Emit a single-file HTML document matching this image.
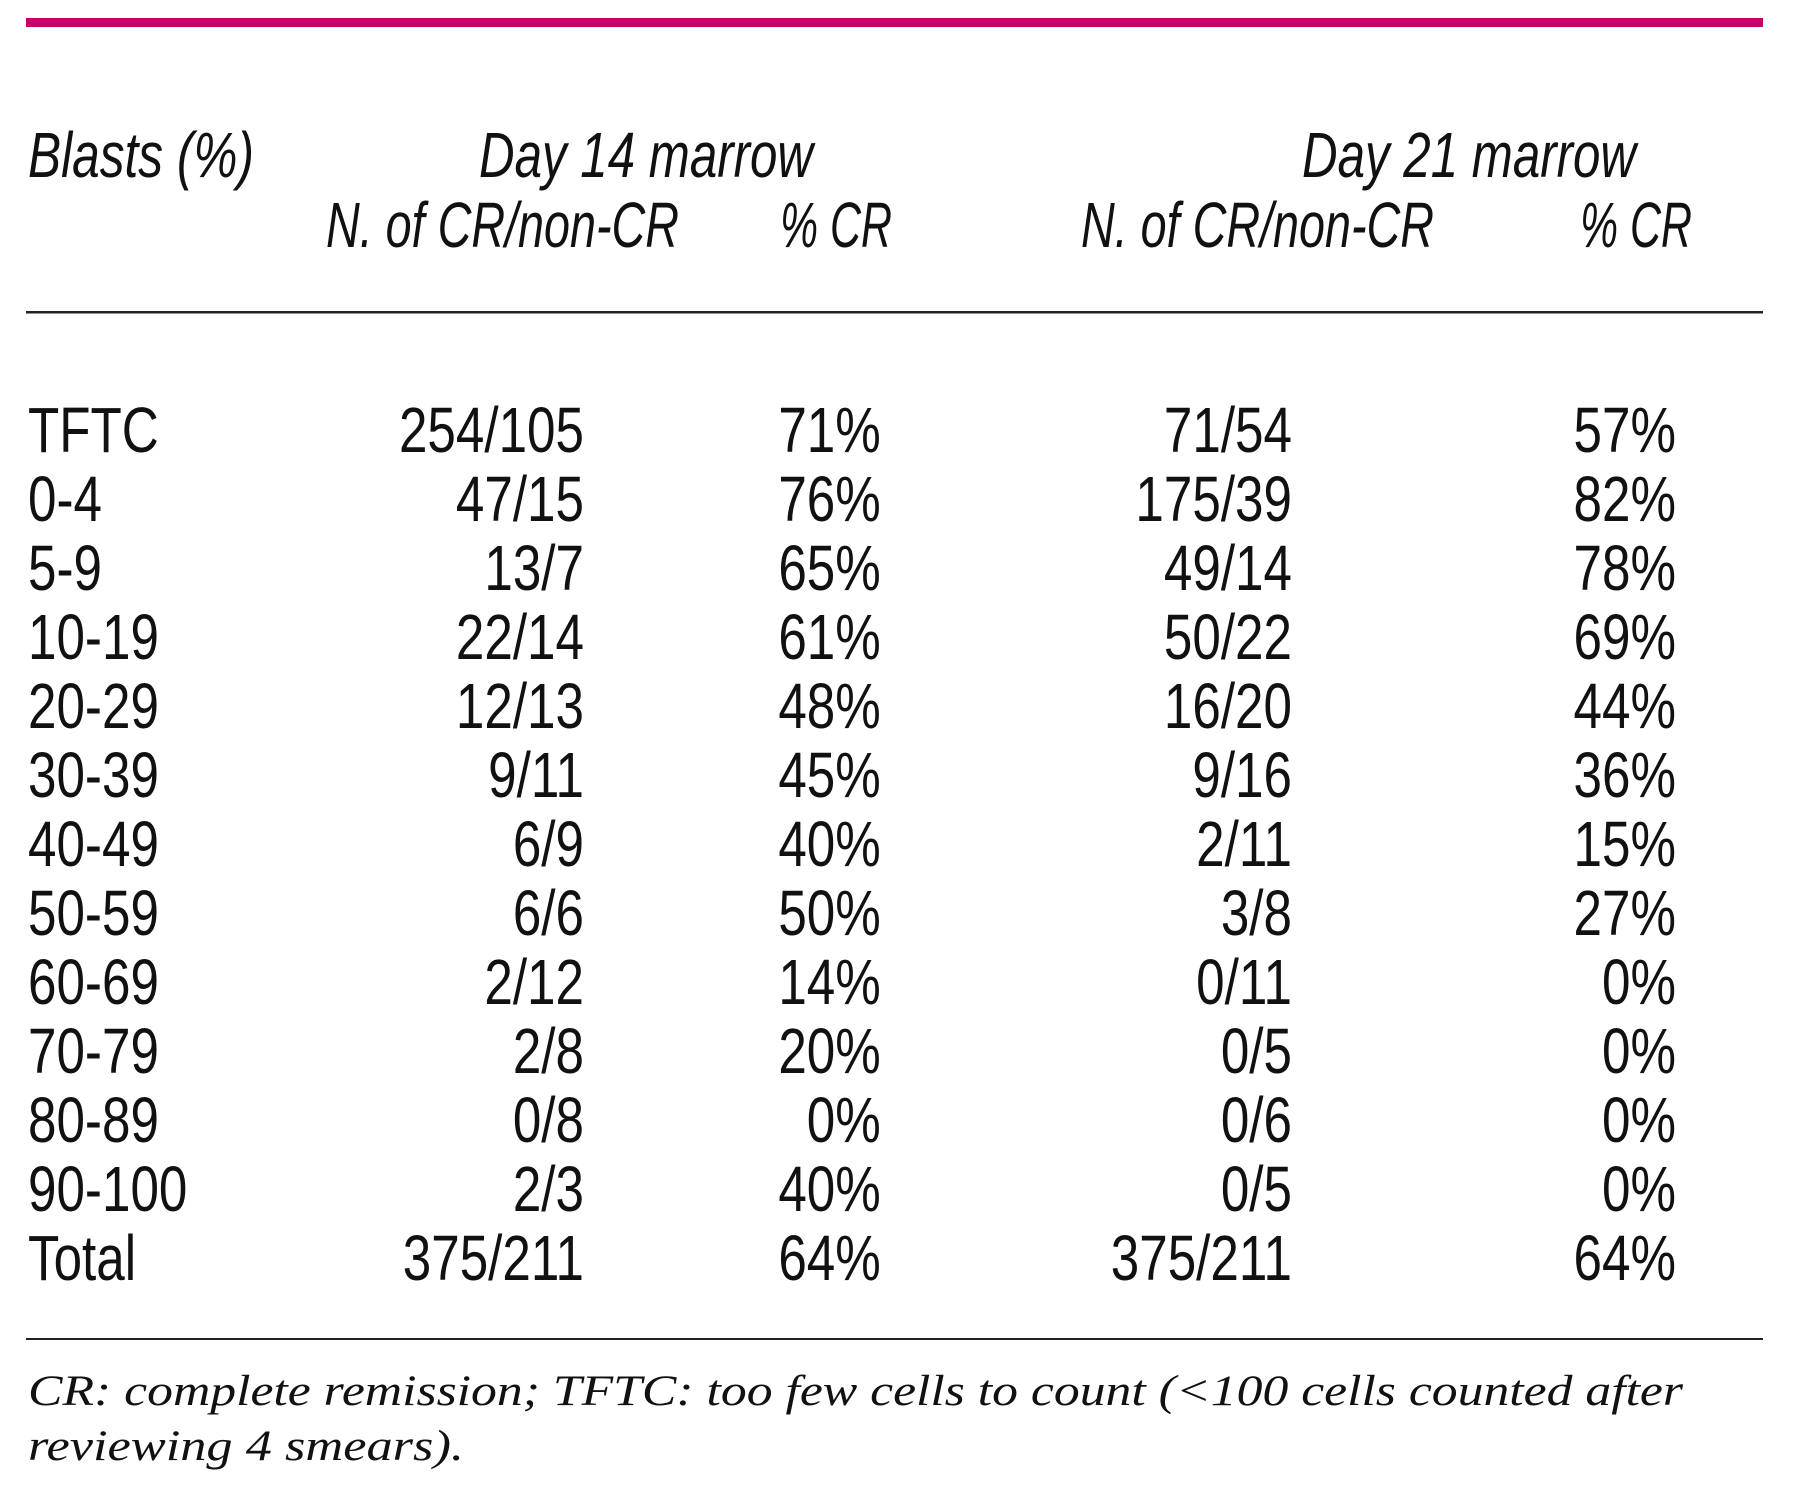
<!DOCTYPE html>
<html><head><meta charset="utf-8"><style>
html,body{margin:0;padding:0;background:#fff;}
svg{display:block;}
</style></head><body>
<svg width="1800" height="1509" viewBox="0 0 1800 1509" xmlns="http://www.w3.org/2000/svg">
<rect x="0" y="0" width="1800" height="1509" fill="#fff"/>
<rect x="26" y="18" width="1737" height="9" fill="#c8006a"/>
<rect x="26" y="311" width="1737" height="2.5" fill="#222"/>
<rect x="26" y="1338" width="1737" height="2" fill="#222"/>
<g font-family="Liberation Sans, sans-serif" font-size="64" font-style="italic" fill="#111">
<text x="28" y="177" textLength="226" lengthAdjust="spacingAndGlyphs">Blasts (%)</text>
<text x="479" y="177" textLength="334" lengthAdjust="spacingAndGlyphs">Day 14 marrow</text>
<text x="1302" y="177" textLength="334" lengthAdjust="spacingAndGlyphs">Day 21 marrow</text>
<text x="326" y="247" textLength="353" lengthAdjust="spacingAndGlyphs">N. of CR/non-CR</text>
<text x="780" y="247" textLength="112" lengthAdjust="spacingAndGlyphs">% CR</text>
<text x="1081" y="247" textLength="353" lengthAdjust="spacingAndGlyphs">N. of CR/non-CR</text>
<text x="1580" y="247" textLength="112" lengthAdjust="spacingAndGlyphs">% CR</text>
</g>
<g transform="scale(0.8,1)" font-family="Liberation Sans, sans-serif" font-size="64" fill="#111">
<g>
<text x="35" y="452">TFTC</text><text x="35" y="521">0-4</text><text x="35" y="590">5-9</text><text x="35" y="659">10-19</text><text x="35" y="728">20-29</text><text x="35" y="797">30-39</text><text x="35" y="866">40-49</text><text x="35" y="935">50-59</text><text x="35" y="1004">60-69</text><text x="35" y="1073">70-79</text><text x="35" y="1142">80-89</text><text x="35" y="1211">90-100</text><text x="35" y="1280">Total</text>
</g>
<g text-anchor="end">
<text x="730" y="452">254/105</text><text x="730" y="521">47/15</text><text x="730" y="590">13/7</text><text x="730" y="659">22/14</text><text x="730" y="728">12/13</text><text x="730" y="797">9/11</text><text x="730" y="866">6/9</text><text x="730" y="935">6/6</text><text x="730" y="1004">2/12</text><text x="730" y="1073">2/8</text><text x="730" y="1142">0/8</text><text x="730" y="1211">2/3</text><text x="730" y="1280">375/211</text>
</g>
<g text-anchor="end">
<text x="1101" y="452">71%</text><text x="1101" y="521">76%</text><text x="1101" y="590">65%</text><text x="1101" y="659">61%</text><text x="1101" y="728">48%</text><text x="1101" y="797">45%</text><text x="1101" y="866">40%</text><text x="1101" y="935">50%</text><text x="1101" y="1004">14%</text><text x="1101" y="1073">20%</text><text x="1101" y="1142">0%</text><text x="1101" y="1211">40%</text><text x="1101" y="1280">64%</text>
</g>
<g text-anchor="end">
<text x="1615" y="452">71/54</text><text x="1615" y="521">175/39</text><text x="1615" y="590">49/14</text><text x="1615" y="659">50/22</text><text x="1615" y="728">16/20</text><text x="1615" y="797">9/16</text><text x="1615" y="866">2/11</text><text x="1615" y="935">3/8</text><text x="1615" y="1004">0/11</text><text x="1615" y="1073">0/5</text><text x="1615" y="1142">0/6</text><text x="1615" y="1211">0/5</text><text x="1615" y="1280">375/211</text>
</g>
<g text-anchor="end">
<text x="2095" y="452">57%</text><text x="2095" y="521">82%</text><text x="2095" y="590">78%</text><text x="2095" y="659">69%</text><text x="2095" y="728">44%</text><text x="2095" y="797">36%</text><text x="2095" y="866">15%</text><text x="2095" y="935">27%</text><text x="2095" y="1004">0%</text><text x="2095" y="1073">0%</text><text x="2095" y="1142">0%</text><text x="2095" y="1211">0%</text><text x="2095" y="1280">64%</text>
</g>
</g>
<g font-family="Liberation Serif, serif" font-size="43" font-style="italic" fill="#111">
<text x="28" y="1405" textLength="1655" lengthAdjust="spacingAndGlyphs">CR: complete remission; TFTC: too few cells to count (&lt;100 cells counted after</text>
<text x="28" y="1460" textLength="436" lengthAdjust="spacingAndGlyphs">reviewing 4 smears).</text>
</g>
</svg>
</body></html>
